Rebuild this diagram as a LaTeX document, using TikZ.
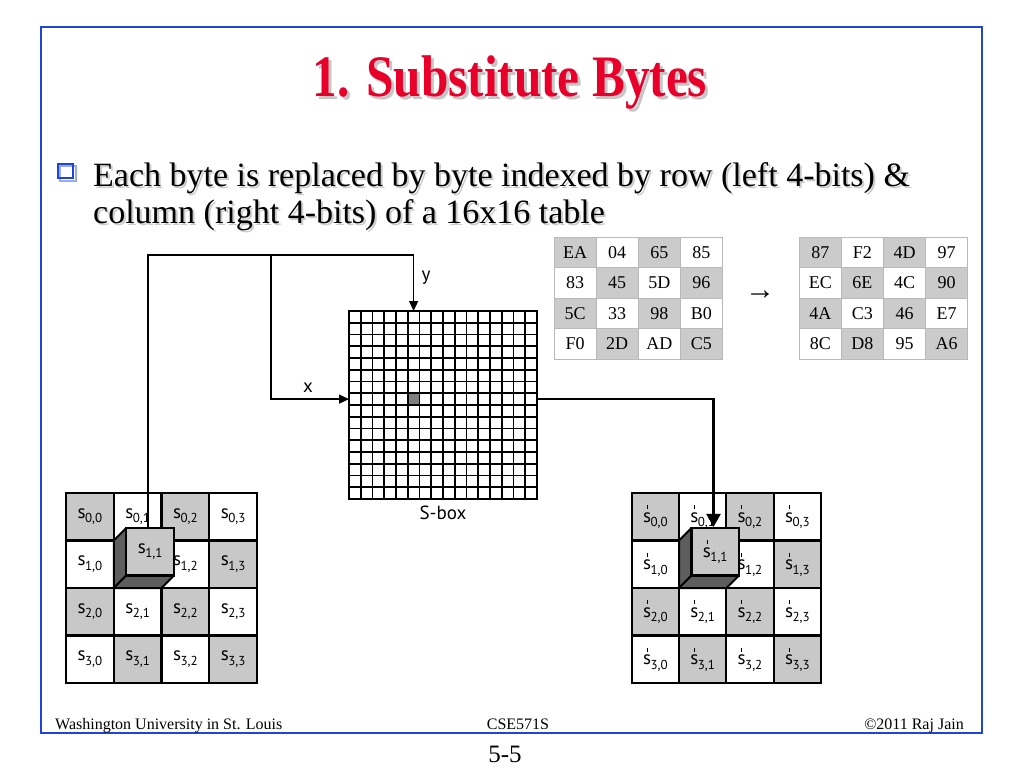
\documentclass[tikz,border=0pt]{standalone}
\usepackage{fontspec}
\setmainfont{Liberation Serif}
\newfontfamily\sansf{PT Sans}
\usetikzlibrary{arrows.meta}
\definecolor{frameblue}{HTML}{1F45D6}
\definecolor{titlered}{HTML}{E8002A}
\definecolor{cellgray}{HTML}{C8C8C8}
\definecolor{tabgray}{HTML}{CBCBCB}
\definecolor{sidegray}{HTML}{5E5E5E}
\definecolor{hilite}{HTML}{7F7F7F}
\newcommand\sle[1]{s\kern-0.5pt\raisebox{-4.5pt}{\fontsize{13}{13}\selectfont #1}}
\newcommand\spl[1]{\makebox[0pt][l]{\raisebox{13pt}{\kern3.6pt\rule{1.1pt}{4pt}}}s\kern-0.5pt\raisebox{-4.5pt}{\fontsize{13}{13}\selectfont #1}}
\tikzset{
  mcell/.style={draw=black, line width=2.2pt, minimum width=#1, minimum height=47.5pt, inner sep=0pt,
     font=\sansf\fontsize{19}{19}\selectfont},
  tcell/.style={draw=gray!55, line width=1pt, minimum width=42.1pt, minimum height=30.5pt, inner sep=0pt,
     font=\fontsize{18}{18}\selectfont},
  side/.style={fill=sidegray, draw=black, line width=2pt, line join=round},
  front/.style={draw=black, line width=2.2pt, fill=cellgray, minimum width=47.5pt, minimum height=47.5pt, inner sep=0pt,
     font=\sansf\fontsize{19}{19}\selectfont},
  thinconn/.style={draw=black, line width=1.4pt, -{Triangle[length=10pt,width=9pt]}},
  thickconn/.style={draw=black, line width=2.6pt, -{Triangle[length=13pt,width=14pt]}},
  lab/.style={font=\sansf\fontsize{19}{19}\selectfont, inner sep=0pt},
  foot/.style={font=\fontsize{16}{16}\selectfont, inner sep=0pt}
}
\begin{document}
\begin{tikzpicture}[x=1pt,y=-1pt]
\useasboundingbox (0,0) rectangle (1024,768);
\fill[white] (0,0) rectangle (1024,768);
% frame
\draw[frameblue, line width=2.6pt] (41,27) rectangle (982,733);
% title with shadow
\node[anchor=base, text=gray!45, inner sep=0pt] at (513,99) {\scalebox{0.88}[1.05]{\fontsize{56}{56}\selectfont\bfseries 1. Substitute Bytes}};
\node[anchor=base, text=titlered, inner sep=0pt] (title) at (510,96) {\scalebox{0.88}[1.05]{\fontsize{56}{56}\selectfont\bfseries 1. Substitute Bytes}};
% bullet
\draw[frameblue!45, line width=2.8pt] (60,166) rectangle (76,181);
\draw[frameblue, line width=2.8pt] (58,164) rectangle (73,178);
\node[anchor=base west, text=gray!40, inner sep=0pt] at (95,188) {\fontsize{34}{34}\selectfont Each byte is replaced by byte indexed by row (left 4-bits) \&};
\node[anchor=base west, inner sep=0pt] (line1) at (93,186) {\fontsize{34}{34}\selectfont Each byte is replaced by byte indexed by row (left 4-bits) \&};
\node[anchor=base west, text=gray!40, inner sep=0pt] at (95,225) {\fontsize{34}{34}\selectfont column (right 4-bits) of a 16x16 table};
\node[anchor=base west, inner sep=0pt] (line2) at (93,223) {\fontsize{34}{34}\selectfont column (right 4-bits) of a 16x16 table};
% top-right tables
\foreach \v [count=\n from 0] in {EA,04,65,85,83,45,5D,96,5C,33,98,B0,F0,2D,AD,C5}{
  \pgfmathtruncatemacro\r{int(\n/4)}
  \pgfmathtruncatemacro\c{mod(\n,4)}
  \pgfmathtruncatemacro\g{mod(\r+\c,2)}
  \ifnum\g=0 \def\fc{tabgray}\else\def\fc{white}\fi
  \node[tcell, fill=\fc] (A-\r-\c) at (554+21.05+\c*42.1, 237.3+15.25+\r*30.5) {\v};
}
\foreach \v [count=\n from 0] in {87,F2,4D,97,EC,6E,4C,90,4A,C3,46,E7,8C,D8,95,A6}{
  \pgfmathtruncatemacro\r{int(\n/4)}
  \pgfmathtruncatemacro\c{mod(\n,4)}
  \pgfmathtruncatemacro\g{mod(\r+\c,2)}
  \ifnum\g=0 \def\fc{tabgray}\else\def\fc{white}\fi
  \node[tcell, fill=\fc] (B-\r-\c) at (799.3+21.05+\c*42.1, 237.3+15.25+\r*30.5) {\v};
}
\node[inner sep=0pt, font=\fontsize{30}{30}\selectfont\bfseries] (tabarrow) at (760,295) {→};
% S-box
\fill[hilite] (407.75,393.25) rectangle ++(11.75,11.75);
\foreach \k in {1,...,15}{
  \draw[line width=1.6pt] (349+\k*11.75,311) -- ++(0,188);
  \draw[line width=1.6pt] (349,311+\k*11.75) -- ++(188,0);
}
\node[draw, line width=2.4pt, minimum width=188pt, minimum height=188pt, inner sep=0pt] (sbox) at (443,405) {};
\node[lab, anchor=north] (sboxlab) at (443,506) {S-box};
\coordinate (ycol) at (413.6,311);
\coordinate (xrow) at (349,399.1);
% left state
\foreach \i in {0,...,3}{
  \foreach \j in {0,...,3}{
    \pgfmathtruncatemacro\g{mod(\i+\j,2)}
    \ifnum\g=0 \def\fc{cellgray}\else\def\fc{white}\fi
    \node[mcell=47.75pt, fill=\fc] (L-\i-\j) at (66+23.875+\j*47.75, 493+23.75+\i*47.5) {\sle{\i,\j}};
  }
}
% right state
\foreach \i in {0,...,3}{
  \foreach \j in {0,...,3}{
    \pgfmathtruncatemacro\g{mod(\i+\j,2)}
    \ifnum\g=0 \def\fc{cellgray}\else\def\fc{white}\fi
    \node[mcell=47.3pt, fill=\fc] (R-\i-\j) at (631.75+23.65+\j*47.3, 493+23.75+\i*47.5) {\spl{\i,\j}};
  }
}
% left cube
\path[side] (113.75,540.5) -- (126.25,528) -- (126.25,575.5) -- (113.75,588) -- cycle;
\path[side] (113.75,588) -- (126.25,575.5) -- (174,575.5) -- (161.5,588) -- cycle;
\node[front] (cubeL) at (150.1,551.75) {\sle{1,1}};
% right cube
\path[side] (679,540.5) -- (691.5,528) -- (691.5,575.5) -- (679,588) -- cycle;
\path[side] (679,588) -- (691.5,575.5) -- (739,575.5) -- (726.5,588) -- cycle;
\node[front] (cubeR) at (715.25,551.75) {\spl{1,1}};
% connectors
\coordinate (top) at (148,255);
\coordinate (branch) at (271,255);
\coordinate (outx) at (713.5,400);
\draw[thinconn] (cubeL.north -| top) -- (top) -- (ycol |- top) -- (ycol);
\draw[thinconn] (branch) |- (xrow);
\node[lab] (ylab) at (426,278) {y};
\node[lab] (xlab) at (308,388) {x};
\draw[thickconn] (sbox.east |- xrow) -| (cubeR.north -| outx);
% footer
\node[foot, anchor=base west] (f1) at (55,729) {Washington University in St. Louis};
\node[foot, anchor=base] (f2) at (518,729) {CSE571S};
\node[foot, anchor=base east] (f3) at (964,729) {©2011 Raj Jain};
\node[anchor=base, inner sep=0pt, font=\fontsize{25}{25}\selectfont] (pg) at (505,762) {5-5};
\end{tikzpicture}
\end{document}
